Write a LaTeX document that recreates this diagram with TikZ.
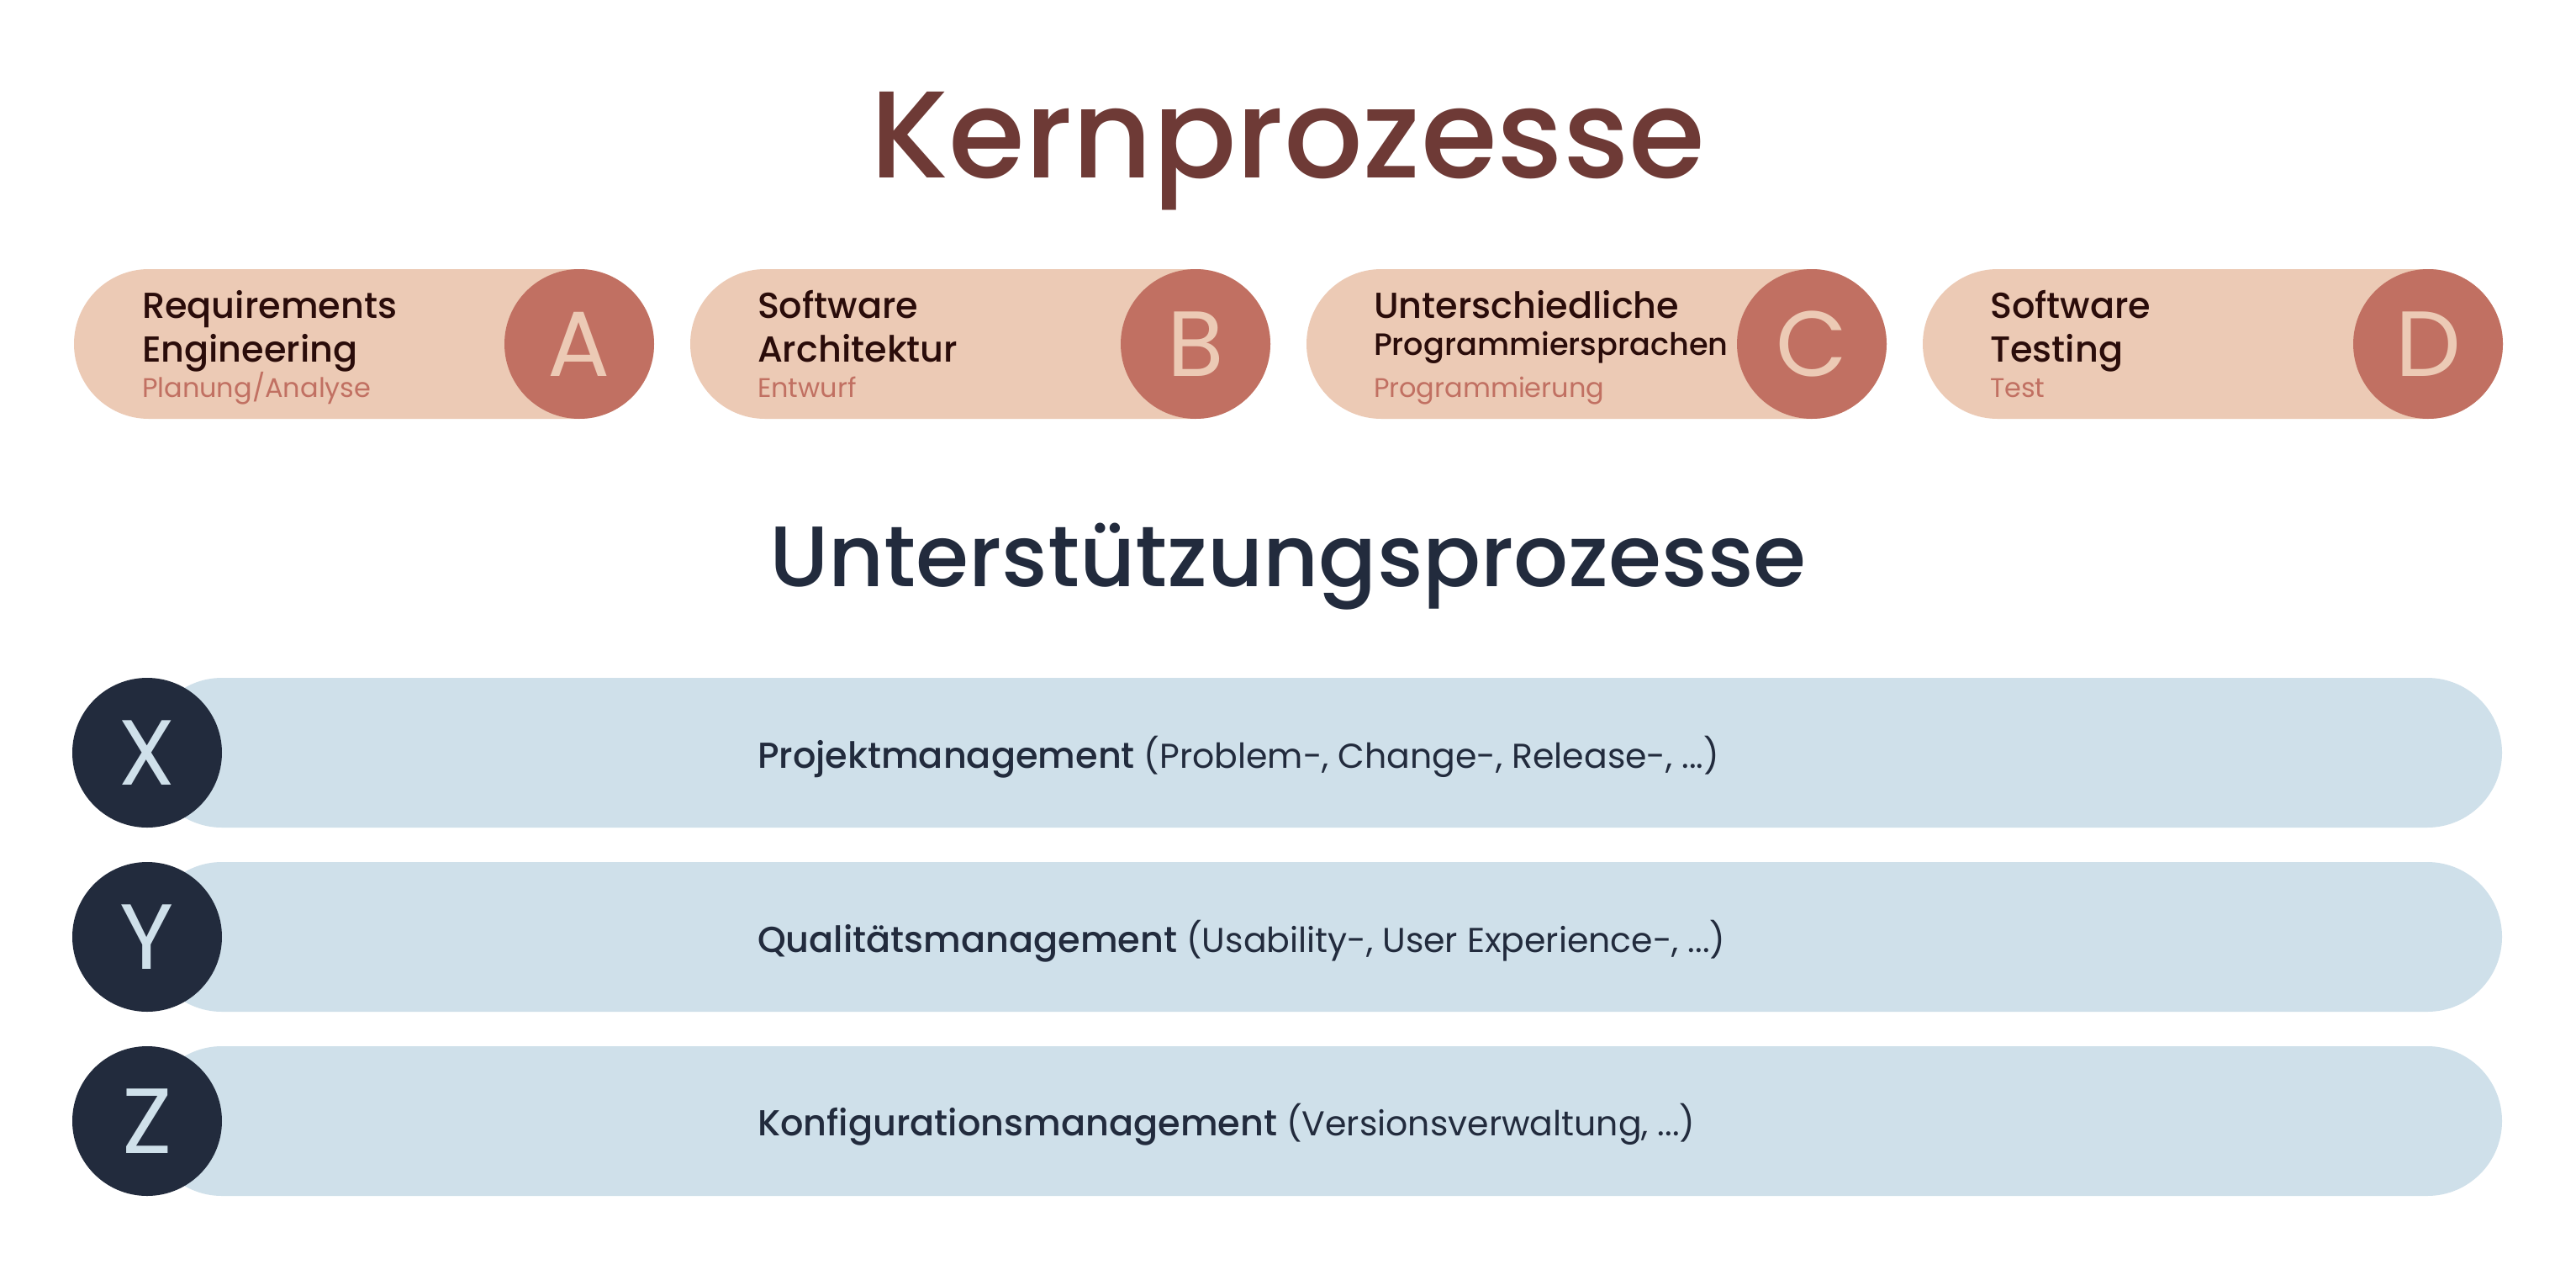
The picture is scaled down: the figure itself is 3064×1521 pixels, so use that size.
\documentclass[tikz,border=0pt]{standalone}
\usepackage{fontspec}
\setmainfont{Poppins}
\newfontfamily\fmed{Poppins Medium}
\definecolor{peach}{HTML}{ECCAB5}
\definecolor{terra}{HTML}{C17062}
\definecolor{brownT}{HTML}{6E3A36}
\definecolor{pdark}{HTML}{2A0C0A}
\definecolor{navy}{HTML}{222B3D}
\definecolor{lblue}{HTML}{CFE0EA}
\newcommand{\bfpart}[1]{{\fmed\fontsize{43}{43}\selectfont #1}}
\begin{document}
\begin{tikzpicture}[x=1pt,y=-1pt,
  every node/.style={inner sep=0pt,outer sep=0pt},
  pill/.style={fill=peach,rounded corners=89pt},
  bar/.style={fill=lblue,rounded corners=89pt},
  kcirc/.style={circle,fill=terra,minimum size=178pt,text=peach,font=\rmfamily\fontsize{110}{110}\selectfont},
  scirc/.style={circle,fill=navy,minimum size=178pt,text=lblue,font=\rmfamily\fontsize{110}{110}\selectfont},
  ptext/.style={anchor=base west,text=pdark,font=\fmed\fontsize{43}{43}\selectfont},
  psmall/.style={anchor=base west,text=pdark,font=\fmed\fontsize{36.7}{36.7}\selectfont},
  psub/.style={anchor=base west,text=terra,font=\rmfamily\fontsize{32}{32}\selectfont},
  btext/.style={anchor=base west,text=navy,font=\rmfamily\fontsize{41}{41}\selectfont},
  title/.style={anchor=base,font=\fmed\fontsize{147}{147}\selectfont}
]
\useasboundingbox (0,0) rectangle (3064,1521);
\fill[white] (0,0) rectangle (3064,1521);

\node[title,text=brownT] (t1) at (1532,211) {Kernprozesse};
\node[title,text=navy,font=\fmed\fontsize{102}{102}\selectfont] (t2) at (1532,697) {Unterstützungsprozesse};

% pills
\fill[pill] (88,320) rectangle (778,498);
\fill[pill] (821,320) rectangle (1511,498);
\fill[pill] (1554,320) rectangle (2244,498);
\fill[pill] (2287,320) rectangle (2977,498);
\node[kcirc] (A) at (689,409) {A};
\node[kcirc] (B) at (1422,409) {B};
\node[kcirc] (C) at (2155,409) {C};
\node[kcirc] (D) at (2888,409) {D};

\node[ptext] (a1) at (169,378) {Requirements};
\node[ptext] (a2) at (169,430) {Engineering};
\node[psub]  (a3) at (169,472) {Planung/Analyse};
\node[ptext] (b1) at (901,378) {Software};
\node[ptext] (b2) at (901,430) {Architektur};
\node[psub]  (b3) at (901,472) {Entwurf};
\node[ptext] (c1) at (1634,378) {Unterschiedliche};
\node[psmall] (c2) at (1634,422) {Programmiersprachen};
\node[psub]  (c3) at (1634,472) {Programmierung};
\node[ptext] (d1) at (2367,378) {Software};
\node[ptext] (d2) at (2367,430) {Testing};
\node[psub]  (d3) at (2367,472) {Test};

% bars
\fill[bar] (175,806) rectangle (2976,984);
\fill[bar] (175,1025) rectangle (2976,1203);
\fill[bar] (175,1244) rectangle (2976,1422);
\node[scirc] (X) at (175,895) {X};
\node[scirc] (Y) at (175,1114) {Y};
\node[scirc] (Z) at (175,1333) {Z};

\node[btext] (x1) at (901,913) {\bfpart{Projektmanagement} (Problem-, Change-, Release-, ...)};
\node[btext] (y1) at (901,1132) {\bfpart{Qualitätsmanagement} (Usability-, User Experience-, ...)};
\node[btext] (z1) at (901,1350) {\bfpart{Konfigurationsmanagement} (Versionsverwaltung, ...)};
\end{tikzpicture}
\end{document}
